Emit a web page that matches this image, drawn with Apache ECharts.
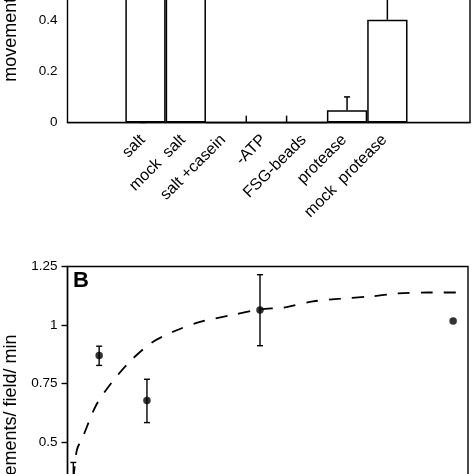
<!DOCTYPE html>
<html><head><meta charset="utf-8">
<script src="https://cdn.jsdelivr.net/npm/echarts@6/dist/echarts.min.js"></script>
<style>html,body{margin:0;padding:0;background:#fff;}#c{width:474px;height:474px;}</style>
</head><body><div id="c"></div>
<script>
// ---- Panel A (bars) ----
const categories = ['salt', 'mock  salt', 'salt +casein', '-ATP', 'FSG-beads', 'protease', 'mock  protease'];
const barValues = [0.95, 0.95, 0, 0, 0, 0.048, 0.40];
// error bars: position (in category units), base, top, cap
const barErrPos = [2.5, 3.5, 5, 6];
const barErrBase = [0, 0, 0.048, 0.40];
const barErrTop = [0.027, 0.027, 0.10, 0.56];
const barErrCap = [0, 0, 1, 1];
// ---- Panel B (scatter + fit) ----
const conc = [0.9, 4.9, 12.3, 29.8, 59.7];
const rate = [0.30, 0.870, 0.678, 1.064, 1.017];
const rateLow = [0.19, 0.828, 0.584, 0.912, null];
const rateHigh = [0.414, 0.910, 0.769, 1.215, null];
const fitX = [0.6, 1.0, 1.47, 2.4, 4.41, 6.73, 9.67, 13.08, 16.8, 20.66, 25.15, 29.8, 33.5, 38.0, 42.3, 46.8, 51.2, 55.7, 60.8];
const fitY = [0.25, 0.367, 0.469, 0.525, 0.657, 0.751, 0.845, 0.926, 0.977, 1.015, 1.041, 1.067, 1.075, 1.101, 1.113, 1.122, 1.135, 1.139, 1.139];

const FONT = 'Liberation Sans, Arial, Helvetica, sans-serif';
const chart = echarts.init(document.getElementById('c'), null, {renderer: 'canvas'});

const errA = barErrPos.map((p, i) => [p, barErrBase[i], barErrTop[i], barErrCap[i]]);
const errB = conc.map((x, i) => [x, rateLow[i], rateHigh[i]]).filter(d => d[1] != null);

function errRenderA(params, api) {
  const x = api.value(0);
  const p0 = api.coord([x, api.value(1)]);
  const p1 = api.coord([x, api.value(2)]);
  const ch = [{type: 'line', shape: {x1: p0[0], y1: p0[1], x2: p1[0], y2: p1[1]}, style: {stroke: '#000', lineWidth: 1.5}}];
  if (api.value(3)) ch.push({type: 'line', shape: {x1: p1[0] - 3, y1: p1[1], x2: p1[0] + 3, y2: p1[1]}, style: {stroke: '#000', lineWidth: 1.5}});
  return {type: 'group', children: ch};
}
function errRenderB(params, api) {
  const x = api.value(0);
  const p0 = api.coord([x, api.value(1)]);
  const p1 = api.coord([x, api.value(2)]);
  const s = {stroke: '#000', lineWidth: 1.4};
  return {type: 'group', children: [
    {type: 'line', shape: {x1: p0[0], y1: p0[1], x2: p1[0], y2: p1[1]}, style: s},
    {type: 'line', shape: {x1: p0[0] - 3, y1: p0[1], x2: p0[0] + 3, y2: p0[1]}, style: s},
    {type: 'line', shape: {x1: p1[0] - 3, y1: p1[1], x2: p1[0] + 3, y2: p1[1]}, style: s}
  ]};
}

const axLine = {lineStyle: {color: '#000', width: 1.4}};
const option = {
  animation: false,
  backgroundColor: '#fff',
  textStyle: {fontFamily: FONT, color: '#000'},
  grid: [
    {left: 67.5, right: 4, top: -124, height: 246.6, show: true, borderColor: '#000', borderWidth: 1.4, backgroundColor: 'transparent', containLabel: false, outerBoundsMode: 'none'},
    {left: 67.5, right: 6, top: 266.5, height: 293, show: true, borderColor: '#000', borderWidth: 1.4, backgroundColor: 'transparent', containLabel: false, outerBoundsMode: 'none'}
  ],
  xAxis: [
    {gridIndex: 0, type: 'value', min: -1.935, max: 8.05, axisLine: axLine, axisTick: {show: false}, splitLine: {show: false},
     axisLabel: {customValues: [0, 1, 2, 3, 4, 5, 6], rotate: 45, margin: 12, padding: [0, 4, 0, 0], fontSize: 16, color: '#000', fontFamily: FONT,
       formatter: v => categories[Math.round(v)] || ''}},
    {gridIndex: 1, type: 'value', min: 0, max: 62, axisLine: axLine, axisTick: {show: false}, axisLabel: {show: false}, splitLine: {show: false}}
  ],
  yAxis: [
    {gridIndex: 0, type: 'value', min: 0, max: 0.9595, interval: 0.2, axisLine: {show: true, lineStyle: {color: '#000', width: 1.4}},
     axisTick: {show: true, length: 6, lineStyle: {color: '#000', width: 1.4}}, splitLine: {show: false},
     axisLabel: {margin: 10, fontSize: 13.5, color: '#000', fontFamily: FONT, formatter: v => (Math.abs(v * 5 - Math.round(v * 5)) < 1e-6 && v < 0.9) ? String(+v.toFixed(1)) : ''},
     name: 'movements/ field/ min', nameLocation: 'middle', nameGap: 47,
     nameTextStyle: {fontSize: 18, color: '#000', fontFamily: FONT, padding: [0, 0, 0, 10]}},
    {gridIndex: 1, type: 'value', min: 0, max: 1.25, interval: 0.25, axisLine: {show: true, lineStyle: {color: '#000', width: 1.4}},
     axisTick: {show: true, length: 6, lineStyle: {color: '#000', width: 1.4}}, splitLine: {show: false},
     axisLabel: {margin: 10, fontSize: 13.5, color: '#000', fontFamily: FONT},
     name: 'movements/ field/ min', nameLocation: 'middle', nameGap: 47,
     nameTextStyle: {fontSize: 18, color: '#000', fontFamily: FONT, padding: [0, 18, 0, 0]}}
  ],
  series: [
    {type: 'bar', xAxisIndex: 0, yAxisIndex: 0, barWidth: 40.3, data: barValues.map((v, i) => [i, v]),
     itemStyle: {color: '#fff', borderColor: '#000', borderWidth: 1.5}, silent: true},
    {type: 'custom', xAxisIndex: 0, yAxisIndex: 0, data: errA, renderItem: errRenderA, z: 5, silent: true},
    {type: 'line', xAxisIndex: 1, yAxisIndex: 1, data: fitX.map((x, i) => [x, fitY[i]]), smooth: 0.3, showSymbol: false,
     lineStyle: {color: '#000', width: 1.8, type: [12, 11]}, silent: true},
    {type: 'custom', xAxisIndex: 1, yAxisIndex: 1, data: errB, renderItem: errRenderB, z: 5, silent: true},
    {type: 'scatter', xAxisIndex: 1, yAxisIndex: 1, data: conc.map((x, i) => [x, rate[i]]), symbol: 'circle', symbolSize: 7.5,
     itemStyle: {color: '#000'}, z: 6, silent: true}
  ],
  graphic: [
    {type: 'text', left: 73, top: 270, style: {text: 'B', font: 'bold 22px ' + FONT, fill: '#000'}}
  ]
};
chart.setOption(option);
</script>
</body></html>
